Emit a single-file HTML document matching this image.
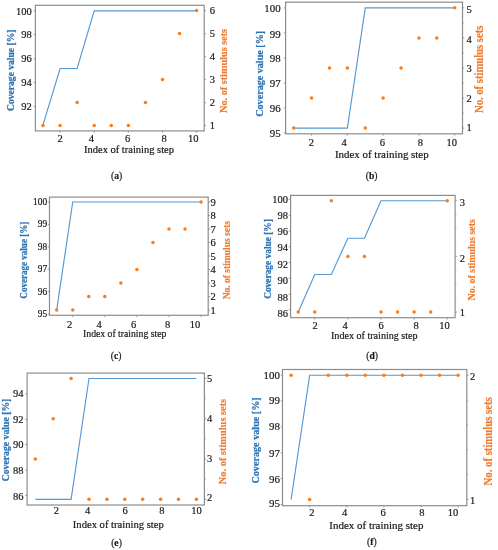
<!DOCTYPE html>
<html><head><meta charset="utf-8"><title>Coverage plots</title>
<style>
html,body{margin:0;padding:0;background:#fff;}
body{width:498px;height:550px;overflow:hidden;}
svg{display:block;}
.t{font-family:'Liberation Serif', 'DejaVu Serif', serif;font-size:10.5px;fill:#1a1a1a;stroke:#1a1a1a;stroke-width:0.2px;}
.xt{font-family:'Liberation Serif', 'DejaVu Serif', serif;font-size:9.6px;fill:#1a1a1a;stroke:#1a1a1a;stroke-width:0.2px;}
.cap{font-family:'Liberation Serif', 'DejaVu Serif', serif;font-size:9.6px;fill:#1a1a1a;stroke:#1a1a1a;stroke-width:0.2px;}
.lt{font-family:'Liberation Serif', 'DejaVu Serif', serif;font-size:9.8px;font-weight:bold;fill:#2e75b6;stroke:#2e75b6;stroke-width:0.25px;}
.rtl{font-family:'Liberation Serif', 'DejaVu Serif', serif;font-size:9.8px;font-weight:bold;fill:#ed7d31;stroke:#ed7d31;stroke-width:0.18px;}
</style></head>
<body>
<svg width="498" height="550" viewBox="0 0 498 550">
<rect width="498" height="550" fill="#fff"/>
<rect x="35.4" y="5.3" width="168.8" height="125.6" fill="none" stroke="#8c8c8c" stroke-width="1.2"/>
<path d="M33.6 10.8h1.8 M33.6 34.6h1.8 M33.6 58.8h1.8 M33.6 82.6h1.8 M33.6 106.6h1.8 M204.2 10.6h1.8 M204.2 33.7h1.8 M204.2 56.7h1.8 M204.2 79.7h1.8 M204.2 102.6h1.8 M204.2 125.5h1.8 M60.07 130.9v1.8 M94.21 130.9v1.8 M128.35 130.9v1.8 M162.49 130.9v1.8 M196.63 130.9v1.8" stroke="#8c8c8c" stroke-width="0.9" fill="none"/>
<polyline points="43,124.8 60.07,68.5 77.14,68.5 94.21,10.8 111.28,10.8 128.35,10.8 145.42,10.8 162.49,10.8 179.56,10.8 196.63,10.8" fill="none" stroke="#5598d4" stroke-width="1.15" stroke-linejoin="miter"/>
<circle cx="43" cy="125.5" r="1.75" fill="#ff7a10"/>
<circle cx="60.07" cy="125.5" r="1.75" fill="#ff7a10"/>
<circle cx="77.14" cy="102.5" r="1.75" fill="#ff7a10"/>
<circle cx="94.21" cy="125.5" r="1.75" fill="#ff7a10"/>
<circle cx="111.28" cy="125.5" r="1.75" fill="#ff7a10"/>
<circle cx="128.35" cy="125.5" r="1.75" fill="#ff7a10"/>
<circle cx="145.42" cy="102.5" r="1.75" fill="#ff7a10"/>
<circle cx="162.49" cy="79.5" r="1.75" fill="#ff7a10"/>
<circle cx="179.56" cy="33.5" r="1.75" fill="#ff7a10"/>
<circle cx="196.63" cy="10.5" r="1.75" fill="#ff7a10"/>
<text x="31.8" y="14.57" text-anchor="end" class="t">100</text>
<text x="31.8" y="38.17" text-anchor="end" class="t">98</text>
<text x="31.8" y="62.37" text-anchor="end" class="t">96</text>
<text x="31.8" y="86.17" text-anchor="end" class="t">94</text>
<text x="31.8" y="110.17" text-anchor="end" class="t">92</text>
<text x="209.8" y="13.97" class="t">6</text>
<text x="209.8" y="37.27" class="t">5</text>
<text x="209.8" y="60.37" class="t">4</text>
<text x="209.8" y="83.37" class="t">3</text>
<text x="209.8" y="106.47" class="t">2</text>
<text x="209.8" y="128.57" class="t">1</text>
<text x="60" y="141.87" text-anchor="middle" class="t">2</text>
<text x="91.4" y="141.87" text-anchor="middle" class="t">4</text>
<text x="127.6" y="141.87" text-anchor="middle" class="t">6</text>
<text x="164" y="141.87" text-anchor="middle" class="t">8</text>
<text x="193.3" y="141.87" text-anchor="middle" class="t">10</text>
<text transform="translate(14.1,70.25) rotate(-90)" text-anchor="middle" class="lt" style="font-size:10.73px" textLength="81.4" lengthAdjust="spacingAndGlyphs">Coverage value [%]</text>
<text transform="translate(227,70.95) rotate(-90)" text-anchor="middle" class="rtl" style="font-size:11.03px" textLength="84" lengthAdjust="spacingAndGlyphs">No. of stimulus sets</text>
<text x="84" y="153" class="xt" textLength="90" lengthAdjust="spacingAndGlyphs">Index of training step</text>
<text x="116.6" y="178.6" text-anchor="middle" class="cap">(<tspan font-weight="bold">a</tspan>)</text>
<rect x="285.6" y="2.2" width="176.9" height="131.6" fill="none" stroke="#8c8c8c" stroke-width="1.2"/>
<path d="M283.8 8h1.8 M283.8 33h1.8 M283.8 58h1.8 M283.8 83h1.8 M283.8 108h1.8 M283.8 133h1.8 M462.5 7.8h1.8 M462.5 37.9h1.8 M462.5 68h1.8 M462.5 98h1.8 M462.5 128.1h1.8 M462.5 22.85h1.2 M462.5 52.95h1.2 M462.5 83h1.2 M462.5 113.05h1.2 M311.59 133.8v1.8 M347.37 133.8v1.8 M383.15 133.8v1.8 M418.93 133.8v1.8 M454.71 133.8v1.8" stroke="#8c8c8c" stroke-width="0.9" fill="none"/>
<polyline points="293.7,128.1 311.59,128.1 329.48,128.1 347.37,128.1 365.26,7.8 383.15,7.8 401.04,7.8 418.93,7.8 436.82,7.8 454.71,7.8" fill="none" stroke="#5598d4" stroke-width="1.15" stroke-linejoin="miter"/>
<circle cx="293.7" cy="128.1" r="1.75" fill="#ff7a10"/>
<circle cx="311.59" cy="98.02" r="1.75" fill="#ff7a10"/>
<circle cx="329.48" cy="67.95" r="1.75" fill="#ff7a10"/>
<circle cx="347.37" cy="67.95" r="1.75" fill="#ff7a10"/>
<circle cx="365.26" cy="128.1" r="1.75" fill="#ff7a10"/>
<circle cx="383.15" cy="98.02" r="1.75" fill="#ff7a10"/>
<circle cx="401.04" cy="67.95" r="1.75" fill="#ff7a10"/>
<circle cx="418.93" cy="37.88" r="1.75" fill="#ff7a10"/>
<circle cx="436.82" cy="37.88" r="1.75" fill="#ff7a10"/>
<circle cx="454.71" cy="7.8" r="1.75" fill="#ff7a10"/>
<text x="280.6" y="12.21" text-anchor="end" class="t" style="font-size:10.9px">100</text>
<text x="280.6" y="37.71" text-anchor="end" class="t" style="font-size:10.9px">99</text>
<text x="280.6" y="62.31" text-anchor="end" class="t" style="font-size:10.9px">98</text>
<text x="280.6" y="87.31" text-anchor="end" class="t" style="font-size:10.9px">97</text>
<text x="280.6" y="112.21" text-anchor="end" class="t" style="font-size:10.9px">96</text>
<text x="280.6" y="136.91" text-anchor="end" class="t" style="font-size:10.9px">95</text>
<text x="466.4" y="13.27" class="t">5</text>
<text x="466.4" y="42.97" class="t">4</text>
<text x="466.4" y="71.77" class="t">3</text>
<text x="466.4" y="101.57" class="t">2</text>
<text x="466.4" y="130.77" class="t">1</text>
<text x="311.4" y="145.87" text-anchor="middle" class="t">2</text>
<text x="344" y="145.87" text-anchor="middle" class="t">4</text>
<text x="382.3" y="145.87" text-anchor="middle" class="t">6</text>
<text x="420.4" y="145.87" text-anchor="middle" class="t">8</text>
<text x="451.7" y="145.87" text-anchor="middle" class="t">10</text>
<text transform="translate(263,73.8) rotate(-90)" text-anchor="middle" class="lt" style="font-size:11.32px" textLength="85.9" lengthAdjust="spacingAndGlyphs">Coverage value [%]</text>
<text transform="translate(483.2,69.35) rotate(-90)" text-anchor="middle" class="rtl" style="font-size:11.48px" textLength="87.4" lengthAdjust="spacingAndGlyphs">No. of stimulus sets</text>
<text x="334.9" y="158.2" class="xt" textLength="93.8" lengthAdjust="spacingAndGlyphs">Index of training step</text>
<text x="371.7" y="179" text-anchor="middle" class="cap">(<tspan font-weight="bold">b</tspan>)</text>
<rect x="49.5" y="197.1" width="158.7" height="118.2" fill="none" stroke="#8c8c8c" stroke-width="1.2"/>
<path d="M47.7 202h1.8 M47.7 224.4h1.8 M47.7 246.8h1.8 M47.7 269.2h1.8 M47.7 291.6h1.8 M47.7 314h1.8 M208.2 202h1.8 M208.2 215.5h1.8 M208.2 229h1.8 M208.2 242.5h1.8 M208.2 256h1.8 M208.2 269.5h1.8 M208.2 283h1.8 M208.2 296.5h1.8 M208.2 310h1.8 M72.74 315.3v1.8 M104.82 315.3v1.8 M136.9 315.3v1.8 M168.98 315.3v1.8 M201.06 315.3v1.8" stroke="#8c8c8c" stroke-width="0.9" fill="none"/>
<polyline points="56.7,309.9 72.74,202 88.78,202 104.82,202 120.86,202 136.9,202 152.94,202 168.98,202 185.02,202 201.06,202" fill="none" stroke="#5598d4" stroke-width="1.15" stroke-linejoin="miter"/>
<circle cx="56.7" cy="310" r="1.75" fill="#ff7a10"/>
<circle cx="72.74" cy="310" r="1.75" fill="#ff7a10"/>
<circle cx="88.78" cy="296.5" r="1.75" fill="#ff7a10"/>
<circle cx="104.82" cy="296.5" r="1.75" fill="#ff7a10"/>
<circle cx="120.86" cy="283" r="1.75" fill="#ff7a10"/>
<circle cx="136.9" cy="269.5" r="1.75" fill="#ff7a10"/>
<circle cx="152.94" cy="242.5" r="1.75" fill="#ff7a10"/>
<circle cx="168.98" cy="229" r="1.75" fill="#ff7a10"/>
<circle cx="185.02" cy="229" r="1.75" fill="#ff7a10"/>
<circle cx="201.06" cy="202" r="1.75" fill="#ff7a10"/>
<text x="47.1" y="205" text-anchor="end" class="t" style="font-size:9.4px">100</text>
<text x="47.1" y="227.2" text-anchor="end" class="t" style="font-size:9.4px">99</text>
<text x="47.1" y="250.1" text-anchor="end" class="t" style="font-size:9.4px">98</text>
<text x="47.1" y="272.2" text-anchor="end" class="t" style="font-size:9.4px">97</text>
<text x="47.1" y="294.6" text-anchor="end" class="t" style="font-size:9.4px">96</text>
<text x="47.1" y="316.7" text-anchor="end" class="t" style="font-size:9.4px">95</text>
<text x="210.5" y="205.57" class="t">9</text>
<text x="210.5" y="219.07" class="t">8</text>
<text x="210.5" y="232.57" class="t">7</text>
<text x="210.5" y="246.07" class="t">6</text>
<text x="210.5" y="259.57" class="t">5</text>
<text x="210.5" y="273.07" class="t">4</text>
<text x="210.5" y="286.57" class="t">3</text>
<text x="210.5" y="300.07" class="t">2</text>
<text x="210.5" y="313.67" class="t">1</text>
<text x="69.6" y="327.67" text-anchor="middle" class="t">2</text>
<text x="99" y="327.67" text-anchor="middle" class="t">4</text>
<text x="133.5" y="327.67" text-anchor="middle" class="t">6</text>
<text x="167.7" y="327.67" text-anchor="middle" class="t">8</text>
<text x="195" y="327.67" text-anchor="middle" class="t">10</text>
<text transform="translate(26.8,260.2) rotate(-90)" text-anchor="middle" class="lt" style="font-size:10.14px" textLength="76.9" lengthAdjust="spacingAndGlyphs">Coverage value [%]</text>
<text transform="translate(229.8,260.25) rotate(-90)" text-anchor="middle" class="rtl" style="font-size:10.27px" textLength="78.2" lengthAdjust="spacingAndGlyphs">No. of stimulus sets</text>
<text x="83.1" y="336.8" class="xt" textLength="83.2" lengthAdjust="spacingAndGlyphs">Index of training step</text>
<text x="116.2" y="358.7" text-anchor="middle" class="cap">(<tspan font-weight="bold">c</tspan>)</text>
<rect x="290.6" y="195.4" width="164.5" height="122.3" fill="none" stroke="#8c8c8c" stroke-width="1.2"/>
<path d="M288.8 199.6h1.8 M288.8 215.3h1.8 M288.8 231h1.8 M288.8 246.8h1.8 M288.8 262.5h1.8 M288.8 278.2h1.8 M288.8 294.3h1.8 M288.8 309.7h1.8 M455.1 200.7h1.8 M455.1 256.4h1.8 M455.1 312.1h1.8 M455.1 214.6h1.2 M455.1 228.6h1.2 M455.1 242.5h1.2 M455.1 270.3h1.2 M455.1 284.2h1.2 M455.1 298.2h1.2 M314.76 317.7v1.8 M347.88 317.7v1.8 M381 317.7v1.8 M414.12 317.7v1.8 M447.24 317.7v1.8" stroke="#8c8c8c" stroke-width="0.9" fill="none"/>
<polyline points="298.2,312 314.76,274.5 331.32,274.5 347.88,238.2 364.44,238.2 381,200.7 397.56,200.7 414.12,200.7 430.68,200.7 447.24,200.7" fill="none" stroke="#5598d4" stroke-width="1.15" stroke-linejoin="miter"/>
<circle cx="298.2" cy="312.1" r="1.75" fill="#ff7a10"/>
<circle cx="314.76" cy="312.1" r="1.75" fill="#ff7a10"/>
<circle cx="331.32" cy="200.7" r="1.75" fill="#ff7a10"/>
<circle cx="347.88" cy="256.4" r="1.75" fill="#ff7a10"/>
<circle cx="364.44" cy="256.4" r="1.75" fill="#ff7a10"/>
<circle cx="381" cy="312.1" r="1.75" fill="#ff7a10"/>
<circle cx="397.56" cy="312.1" r="1.75" fill="#ff7a10"/>
<circle cx="414.12" cy="312.1" r="1.75" fill="#ff7a10"/>
<circle cx="430.68" cy="312.1" r="1.75" fill="#ff7a10"/>
<circle cx="447.24" cy="200.7" r="1.75" fill="#ff7a10"/>
<text x="288" y="202.67" text-anchor="end" class="t">100</text>
<text x="288" y="218.77" text-anchor="end" class="t">98</text>
<text x="288" y="235.17" text-anchor="end" class="t">96</text>
<text x="288" y="251.17" text-anchor="end" class="t">94</text>
<text x="288" y="267.57" text-anchor="end" class="t">92</text>
<text x="288" y="284.17" text-anchor="end" class="t">90</text>
<text x="288" y="300.77" text-anchor="end" class="t">88</text>
<text x="288" y="316.77" text-anchor="end" class="t">86</text>
<text x="459.7" y="206.27" class="t">3</text>
<text x="459.7" y="261.77" class="t">2</text>
<text x="459.7" y="316.17" class="t">1</text>
<text x="315.1" y="328.87" text-anchor="middle" class="t">2</text>
<text x="345.1" y="328.87" text-anchor="middle" class="t">4</text>
<text x="381" y="328.87" text-anchor="middle" class="t">6</text>
<text x="416" y="328.87" text-anchor="middle" class="t">8</text>
<text x="444.6" y="328.87" text-anchor="middle" class="t">10</text>
<text transform="translate(270.6,259) rotate(-90)" text-anchor="middle" class="lt" style="font-size:10.50px" textLength="79.7" lengthAdjust="spacingAndGlyphs">Coverage value [%]</text>
<text transform="translate(475.3,259.8) rotate(-90)" text-anchor="middle" class="rtl" style="font-size:10.68px" textLength="81.3" lengthAdjust="spacingAndGlyphs">No. of stimulus sets</text>
<text x="331" y="338.9" class="xt" textLength="86.6" lengthAdjust="spacingAndGlyphs">Index of training step</text>
<text x="372.1" y="358.6" text-anchor="middle" class="cap">(<tspan font-weight="bold">d</tspan>)</text>
<rect x="27.1" y="373.1" width="177.3" height="131.9" fill="none" stroke="#8c8c8c" stroke-width="1.2"/>
<path d="M25.3 393.9h1.8 M25.3 419.3h1.8 M25.3 444.7h1.8 M25.3 470.1h1.8 M25.3 495.4h1.8 M204.4 378.5h1.8 M204.4 418.8h1.8 M204.4 459h1.8 M204.4 499.3h1.8 M204.4 398.6h1.2 M204.4 438.9h1.2 M204.4 479.1h1.2" stroke="#8c8c8c" stroke-width="0.9" fill="none"/>
<polyline points="35.3,499.3 53.2,499.3 71.1,499.3 89,378.5 106.9,378.5 124.8,378.5 142.7,378.5 160.6,378.5 178.5,378.5 196.4,378.5" fill="none" stroke="#5598d4" stroke-width="1.15" stroke-linejoin="miter"/>
<circle cx="35.3" cy="459.03" r="1.75" fill="#ff7a10"/>
<circle cx="53.2" cy="418.77" r="1.75" fill="#ff7a10"/>
<circle cx="71.1" cy="378.5" r="1.75" fill="#ff7a10"/>
<circle cx="89" cy="499.3" r="1.75" fill="#ff7a10"/>
<circle cx="106.9" cy="499.3" r="1.75" fill="#ff7a10"/>
<circle cx="124.8" cy="499.3" r="1.75" fill="#ff7a10"/>
<circle cx="142.7" cy="499.3" r="1.75" fill="#ff7a10"/>
<circle cx="160.6" cy="499.3" r="1.75" fill="#ff7a10"/>
<circle cx="178.5" cy="499.3" r="1.75" fill="#ff7a10"/>
<circle cx="196.4" cy="499.3" r="1.75" fill="#ff7a10"/>
<text x="23.4" y="397.37" text-anchor="end" class="t">94</text>
<text x="23.4" y="422.77" text-anchor="end" class="t">92</text>
<text x="23.4" y="448.17" text-anchor="end" class="t">90</text>
<text x="23.4" y="473.67" text-anchor="end" class="t">88</text>
<text x="23.4" y="499.67" text-anchor="end" class="t">86</text>
<text x="207.1" y="381.67" class="t">5</text>
<text x="207.1" y="421.87" class="t">4</text>
<text x="207.1" y="462.07" class="t">3</text>
<text x="207.1" y="500.77" class="t">2</text>
<text x="56.3" y="513.57" text-anchor="middle" class="t">2</text>
<text x="87.7" y="513.57" text-anchor="middle" class="t">4</text>
<text x="125" y="513.57" text-anchor="middle" class="t">6</text>
<text x="161.9" y="513.57" text-anchor="middle" class="t">8</text>
<text x="196.5" y="513.57" text-anchor="middle" class="t">10</text>
<text transform="translate(9.3,440) rotate(-90)" text-anchor="middle" class="lt" style="font-size:10.90px" textLength="82.7" lengthAdjust="spacingAndGlyphs">Coverage value [%]</text>
<text transform="translate(226.4,441.5) rotate(-90)" text-anchor="middle" class="rtl" style="font-size:11.20px" textLength="85.3" lengthAdjust="spacingAndGlyphs">No. of stimulus sets</text>
<text x="72.8" y="527.7" class="xt" textLength="91" lengthAdjust="spacingAndGlyphs">Index of training step</text>
<text x="116.5" y="545.8" text-anchor="middle" class="cap">(<tspan font-weight="bold">e</tspan>)</text>
<rect x="282.5" y="369.5" width="184.3" height="136.2" fill="none" stroke="#8c8c8c" stroke-width="1.2"/>
<path d="M280.7 375h1.8 M280.7 401h1.8 M280.7 426.9h1.8 M280.7 452.8h1.8 M280.7 478.7h1.8 M280.7 504.6h1.8 M466.8 375.2h1.8 M466.8 499.5h1.8 M466.8 400.1h1.2 M466.8 424.9h1.2 M466.8 449.8h1.2 M466.8 474.6h1.2 M309.66 505.7v1.8 M346.78 505.7v1.8 M383.9 505.7v1.8 M421.02 505.7v1.8 M458.14 505.7v1.8" stroke="#8c8c8c" stroke-width="0.9" fill="none"/>
<polyline points="291.1,499.5 309.66,375.2 328.22,375.2 346.78,375.2 365.34,375.2 383.9,375.2 402.46,375.2 421.02,375.2 439.58,375.2 458.14,375.2" fill="none" stroke="#5598d4" stroke-width="1.15" stroke-linejoin="miter"/>
<circle cx="291.1" cy="375.2" r="1.75" fill="#ff7a10"/>
<circle cx="309.66" cy="499.5" r="1.75" fill="#ff7a10"/>
<circle cx="328.22" cy="375.2" r="1.75" fill="#ff7a10"/>
<circle cx="346.78" cy="375.2" r="1.75" fill="#ff7a10"/>
<circle cx="365.34" cy="375.2" r="1.75" fill="#ff7a10"/>
<circle cx="383.9" cy="375.2" r="1.75" fill="#ff7a10"/>
<circle cx="402.46" cy="375.2" r="1.75" fill="#ff7a10"/>
<circle cx="421.02" cy="375.2" r="1.75" fill="#ff7a10"/>
<circle cx="439.58" cy="375.2" r="1.75" fill="#ff7a10"/>
<circle cx="458.14" cy="375.2" r="1.75" fill="#ff7a10"/>
<text x="279.9" y="378.81" text-anchor="end" class="t" style="font-size:10.9px">100</text>
<text x="279.9" y="404.41" text-anchor="end" class="t" style="font-size:10.9px">99</text>
<text x="279.9" y="430.31" text-anchor="end" class="t" style="font-size:10.9px">98</text>
<text x="279.9" y="456.61" text-anchor="end" class="t" style="font-size:10.9px">97</text>
<text x="279.9" y="482.51" text-anchor="end" class="t" style="font-size:10.9px">96</text>
<text x="279.9" y="506.71" text-anchor="end" class="t" style="font-size:10.9px">95</text>
<text x="469.9" y="380.47" class="t">2</text>
<text x="469.9" y="503.57" class="t">1</text>
<text x="311.8" y="516.27" text-anchor="middle" class="t">2</text>
<text x="344.7" y="516.27" text-anchor="middle" class="t">4</text>
<text x="383" y="516.27" text-anchor="middle" class="t">6</text>
<text x="421.8" y="516.27" text-anchor="middle" class="t">8</text>
<text x="452.9" y="516.27" text-anchor="middle" class="t">10</text>
<text transform="translate(258.9,440.4) rotate(-90)" text-anchor="middle" class="lt" style="font-size:11.37px" textLength="86.3" lengthAdjust="spacingAndGlyphs">Coverage value [%]</text>
<text transform="translate(491.6,441.35) rotate(-90)" text-anchor="middle" class="rtl" style="font-size:11.58px" textLength="88.2" lengthAdjust="spacingAndGlyphs">No. of stimulus sets</text>
<text x="329.3" y="528.8" class="xt" textLength="94.1" lengthAdjust="spacingAndGlyphs">Index of training step</text>
<text x="371.9" y="545" text-anchor="middle" class="cap">(<tspan font-weight="bold">f</tspan>)</text>
</svg>
</body></html>
